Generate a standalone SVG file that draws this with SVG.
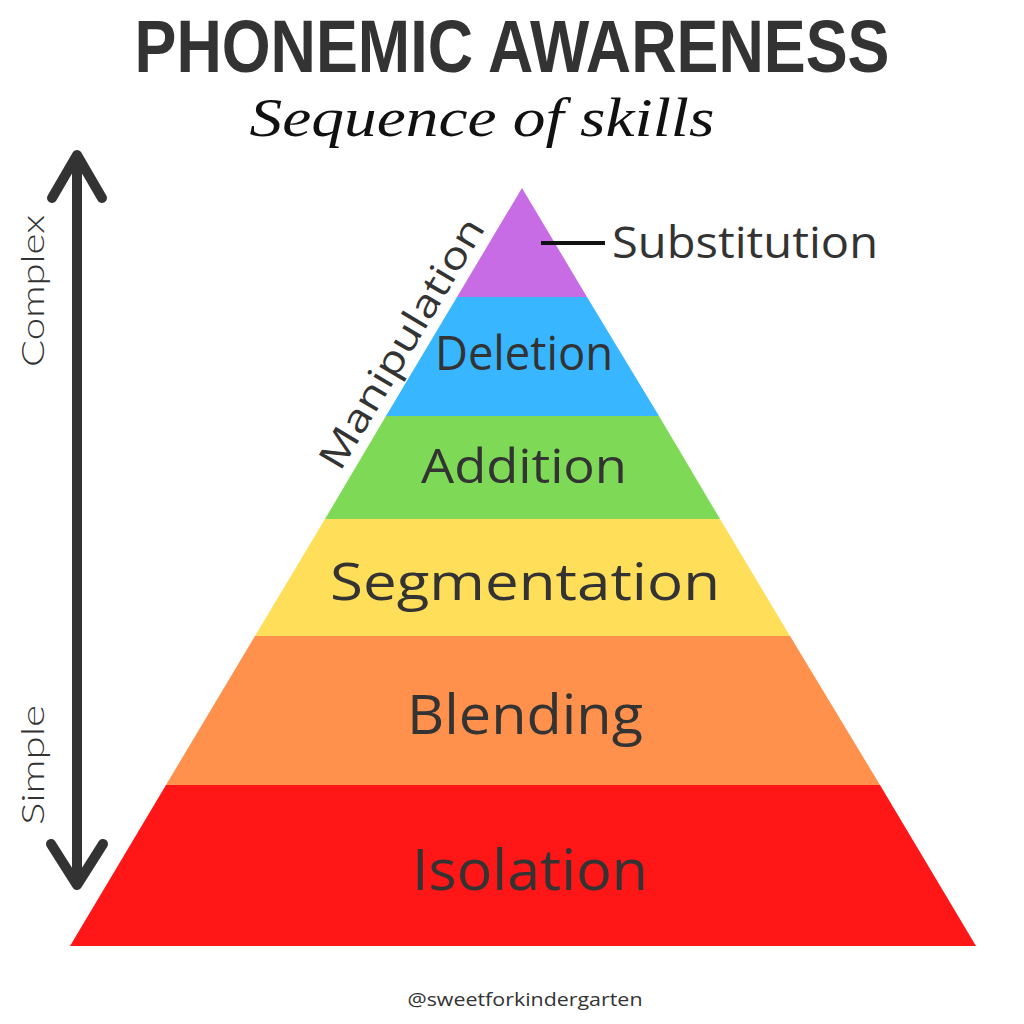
<svg xmlns="http://www.w3.org/2000/svg" width="1024" height="1024" viewBox="0 0 1024 1024">
<style>
.lbl{font-family:"Open Sans","Liberation Sans",sans-serif;fill:#333333;text-anchor:middle}
.side{font-family:"Lato","Open Sans","Liberation Sans",sans-serif;font-weight:300;fill:#333333;text-anchor:middle;font-size:31px}
.arrow{stroke:#333333;stroke-width:10;stroke-linecap:round;stroke-linejoin:round;fill:none}
</style>
<rect width="1024" height="1024" fill="#ffffff"/>
<g id="title">
<text x="512" y="72" font-family="Liberation Sans, sans-serif" font-weight="bold" font-size="74" fill="#333333" text-anchor="middle" textLength="755" lengthAdjust="spacingAndGlyphs">PHONEMIC AWARENESS</text>
<text x="482" y="136" font-family="Liberation Serif, serif" font-style="italic" font-size="54" fill="#111111" text-anchor="middle" textLength="465" lengthAdjust="spacingAndGlyphs">Sequence of skills</text>
</g>
<g id="axis">
<path class="arrow" d="M77 157 V883"/>
<path class="arrow" d="M52 198 L77 155 L102 198"/>
<path class="arrow" d="M51 844 L77 885 L103 844"/>
<text class="side" transform="translate(44 291) rotate(-90)" textLength="152" lengthAdjust="spacingAndGlyphs">Complex</text>
<text class="side" transform="translate(44 765) rotate(-90)" textLength="120" lengthAdjust="spacingAndGlyphs">Simple</text>
</g>
<g id="substitution">
<polygon points="522,188 457,297 587,297" fill="#C86CE6"/>
<text class="lbl" x="745" y="258" font-size="44" textLength="266" lengthAdjust="spacingAndGlyphs">Substitution</text>
</g>
<g id="deletion">
<polygon points="457,297 587,297 659,416 386,416" fill="#38B6FF"/>
<text class="lbl" x="524" y="370" font-size="48" textLength="178" lengthAdjust="spacingAndGlyphs">Deletion</text>
</g>
<g id="addition">
<polygon points="386,416 659,416 720,519 325,519" fill="#7ED957"/>
<text class="lbl" x="524" y="483" font-size="48" textLength="206" lengthAdjust="spacingAndGlyphs">Addition</text>
</g>
<g id="segmentation">
<polygon points="325,519 720,519 790,636 255,636" fill="#FFDE59"/>
<text class="lbl" x="525" y="600" font-size="52" textLength="390" lengthAdjust="spacingAndGlyphs">Segmentation</text>
</g>
<g id="blending">
<polygon points="255,636 790,636 880,785 166,785" fill="#FF914D"/>
<text class="lbl" x="525" y="734" font-size="54" textLength="236" lengthAdjust="spacingAndGlyphs">Blending</text>
</g>
<g id="isolation">
<polygon points="166,785 880,785 976,946 70,946" fill="#FF1616"/>
<text class="lbl" x="530" y="890" font-size="56" textLength="236" lengthAdjust="spacingAndGlyphs">Isolation</text>
</g>
<g id="manipulation">
<text class="lbl" font-size="38" transform="translate(413 350) rotate(-59.2)" textLength="285" lengthAdjust="spacingAndGlyphs">Manipulation</text>
</g>
<g id="connectors">
<line x1="541" y1="243" x2="605" y2="243" stroke="#111111" stroke-width="4"/>
</g>
<g id="footer">
<text x="525" y="1006" font-family="Open Sans, Liberation Sans, sans-serif" font-size="19" fill="#333333" text-anchor="middle" textLength="235" lengthAdjust="spacingAndGlyphs">@sweetforkindergarten</text>
</g>
</svg>
